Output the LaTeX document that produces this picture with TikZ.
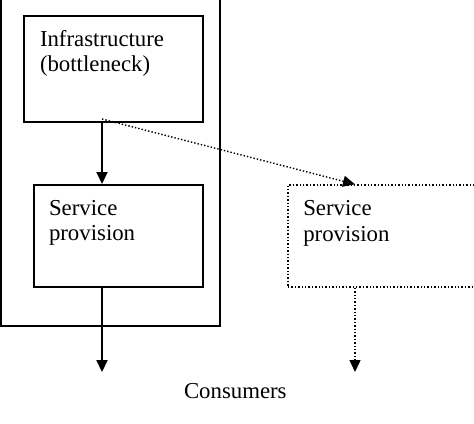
\documentclass[tikz,border=0pt]{standalone}
\usepackage{fontspec}
\setmainfont{Liberation Serif}
\usetikzlibrary{arrows.meta,calc}

\begin{document}
\begin{tikzpicture}[x=0.5pt,y=-0.5pt,>={Triangle[width=5.5pt,length=6pt]},line width=1pt,
    font=\fontsize{11.4}{12.8}\selectfont,
    block/.style={draw,inner sep=0pt,minimum height=51pt},
    blocktext/.style={anchor=north west,inner sep=0pt,align=left},
    weak/.style={densely dotted,line width=0.7pt}]
            \useasboundingbox (0,0) rectangle (474,423);
            \draw (0.5,-10) rectangle (220,326);
            \node[block,minimum width=89.5pt,minimum height=53pt] (infra) at (113.5,69) {};
            \node[blocktext] (infratext) at ($(infra.north west)+(16,14)$) {Infrastructure\\(bottleneck)};
            \node[block,minimum width=84.5pt] (serv) at (118.5,236) {};
            \node[blocktext] (servtext) at ($(serv.north west)+(15,15)$) {Service\\provision};
            \node[block,weak,minimum width=101pt] (alt) at (389,236) {};
            \node[blocktext] (alttext) at ($(alt.north west)+(15,15)$) {Service\\provision};
            \coordinate (left) at (102,372);
            \coordinate (right) at (355,372);
            \node[anchor=base west,inner sep=0pt] (cons) at (183,398) {Consumers};
            \draw[->] (infra.south -| left) -- (serv.north -| left);
            \draw[->] (serv.south -| left) -- (left);
            \draw[->,weak] ($(infra.south -| left)+(0,-4)$) -- (alt.north -| right);
            \draw[->,weak] (alt.south -| right) -- (right);
        \end{tikzpicture}
\end{document}
